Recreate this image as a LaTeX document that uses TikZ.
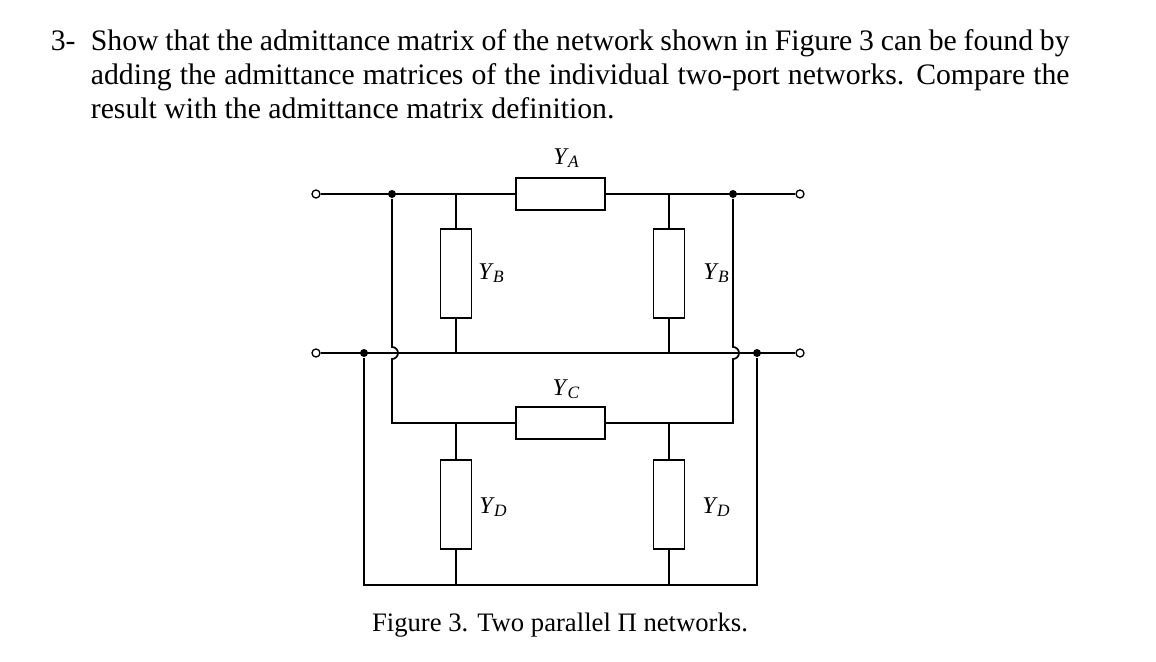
\documentclass[tikz,border=0pt]{standalone}
\usepackage{fontspec}
\setmainfont{Liberation Serif}
\newcommand{\Ysub}[1]{\textit{Y}\kern-0.5pt\raisebox{-0.3ex}{\fontsize{13}{13}\selectfont\textit{#1}}}
\begin{document}
\begin{tikzpicture}[x=0.75pt,y=-0.75pt,line width=1.3pt,
  res/.style={draw,fill=white,minimum width=0,inner sep=0},
  hres/.style={res,minimum width=66.75pt,minimum height=24pt},
  vres/.style={res,minimum width=23.25pt,minimum height=66.75pt},
  dotn/.style={circle,fill,inner sep=0,minimum size=6pt},
  term/.style={circle,draw,fill=white,inner sep=0,minimum size=6pt,line width=1pt},
  lbl/.style={font=\fontsize{18}{20}\selectfont}]
\useasboundingbox (0,0) rectangle (1156,661);
\node[anchor=base west,inner sep=0,font=\fontsize{22.3}{25.5}\selectfont] (qn) at (50,50) {3-};
\node[anchor=base west,inner sep=0,font=\fontsize{22.3}{25.5}\selectfont] (q) at (90,50)
 {\parbox[t]{734pt}{Show that the admittance matrix of the network shown in Figure 3 can be found by adding the admittance matrices of the individual two-port networks. Compare the result with the admittance matrix definition.}};
% terminals
\node[term] (t1) at (316,194) {};
\node[term] (t2) at (800,194) {};
\node[term] (t3) at (316,353) {};
\node[term] (t4) at (800,353) {};
\node[dotn] (d1) at (392,194) {};
\node[dotn] (d2) at (733,194) {};
\node[dotn] (d3) at (364,353) {};
\node[dotn] (d4) at (757,353) {};
\coordinate (bl) at (364,585); \coordinate (br) at (757,585);
\coordinate (il) at (392,423); \coordinate (ir) at (733,423);
% wires
\draw (t1) -- (t2);
\draw (t3) -- (t4);
\draw (d1) -- (392,347) arc[start angle=-90,end angle=90,radius=6] -- (il) -- (ir)
  -- (733,359) arc[start angle=90,end angle=-90,radius=6] -- (d2);
\draw (d3) -- (bl) -- (br) -- (d4);
\draw (456,194) -- (456,353); \draw (669,194) -- (669,353);
\draw (456,423) -- (456,585); \draw (669,423) -- (669,585);
% resistors
\node[hres] (ya) at (560.5,194) {};
\node[hres] (yc) at (560.5,423) {};
\node[vres] (yb1) at (456,273.5) {};
\node[vres] (yb2) at (669,273.5) {};
\node[vres] (yd1) at (456,504.5) {};
\node[vres] (yd2) at (669,504.5) {};
\node[lbl] (la) at (566,158) {\Ysub{A}};
\node[lbl] (lc) at (566,389) {\Ysub{C}};
\node[lbl] (lb1) at (491,273) {\Ysub{B}};
\node[lbl] (lb2) at (716,273) {\Ysub{B}};
\node[lbl] (ld1) at (493,507) {\Ysub{D}};
\node[lbl] (ld2) at (716,507) {\Ysub{D}};
\node[font=\fontsize{20}{22}\selectfont] (cap) at (560,625) {Figure 3. Two parallel \char"03A0\ networks.};
\end{tikzpicture}
\end{document}
